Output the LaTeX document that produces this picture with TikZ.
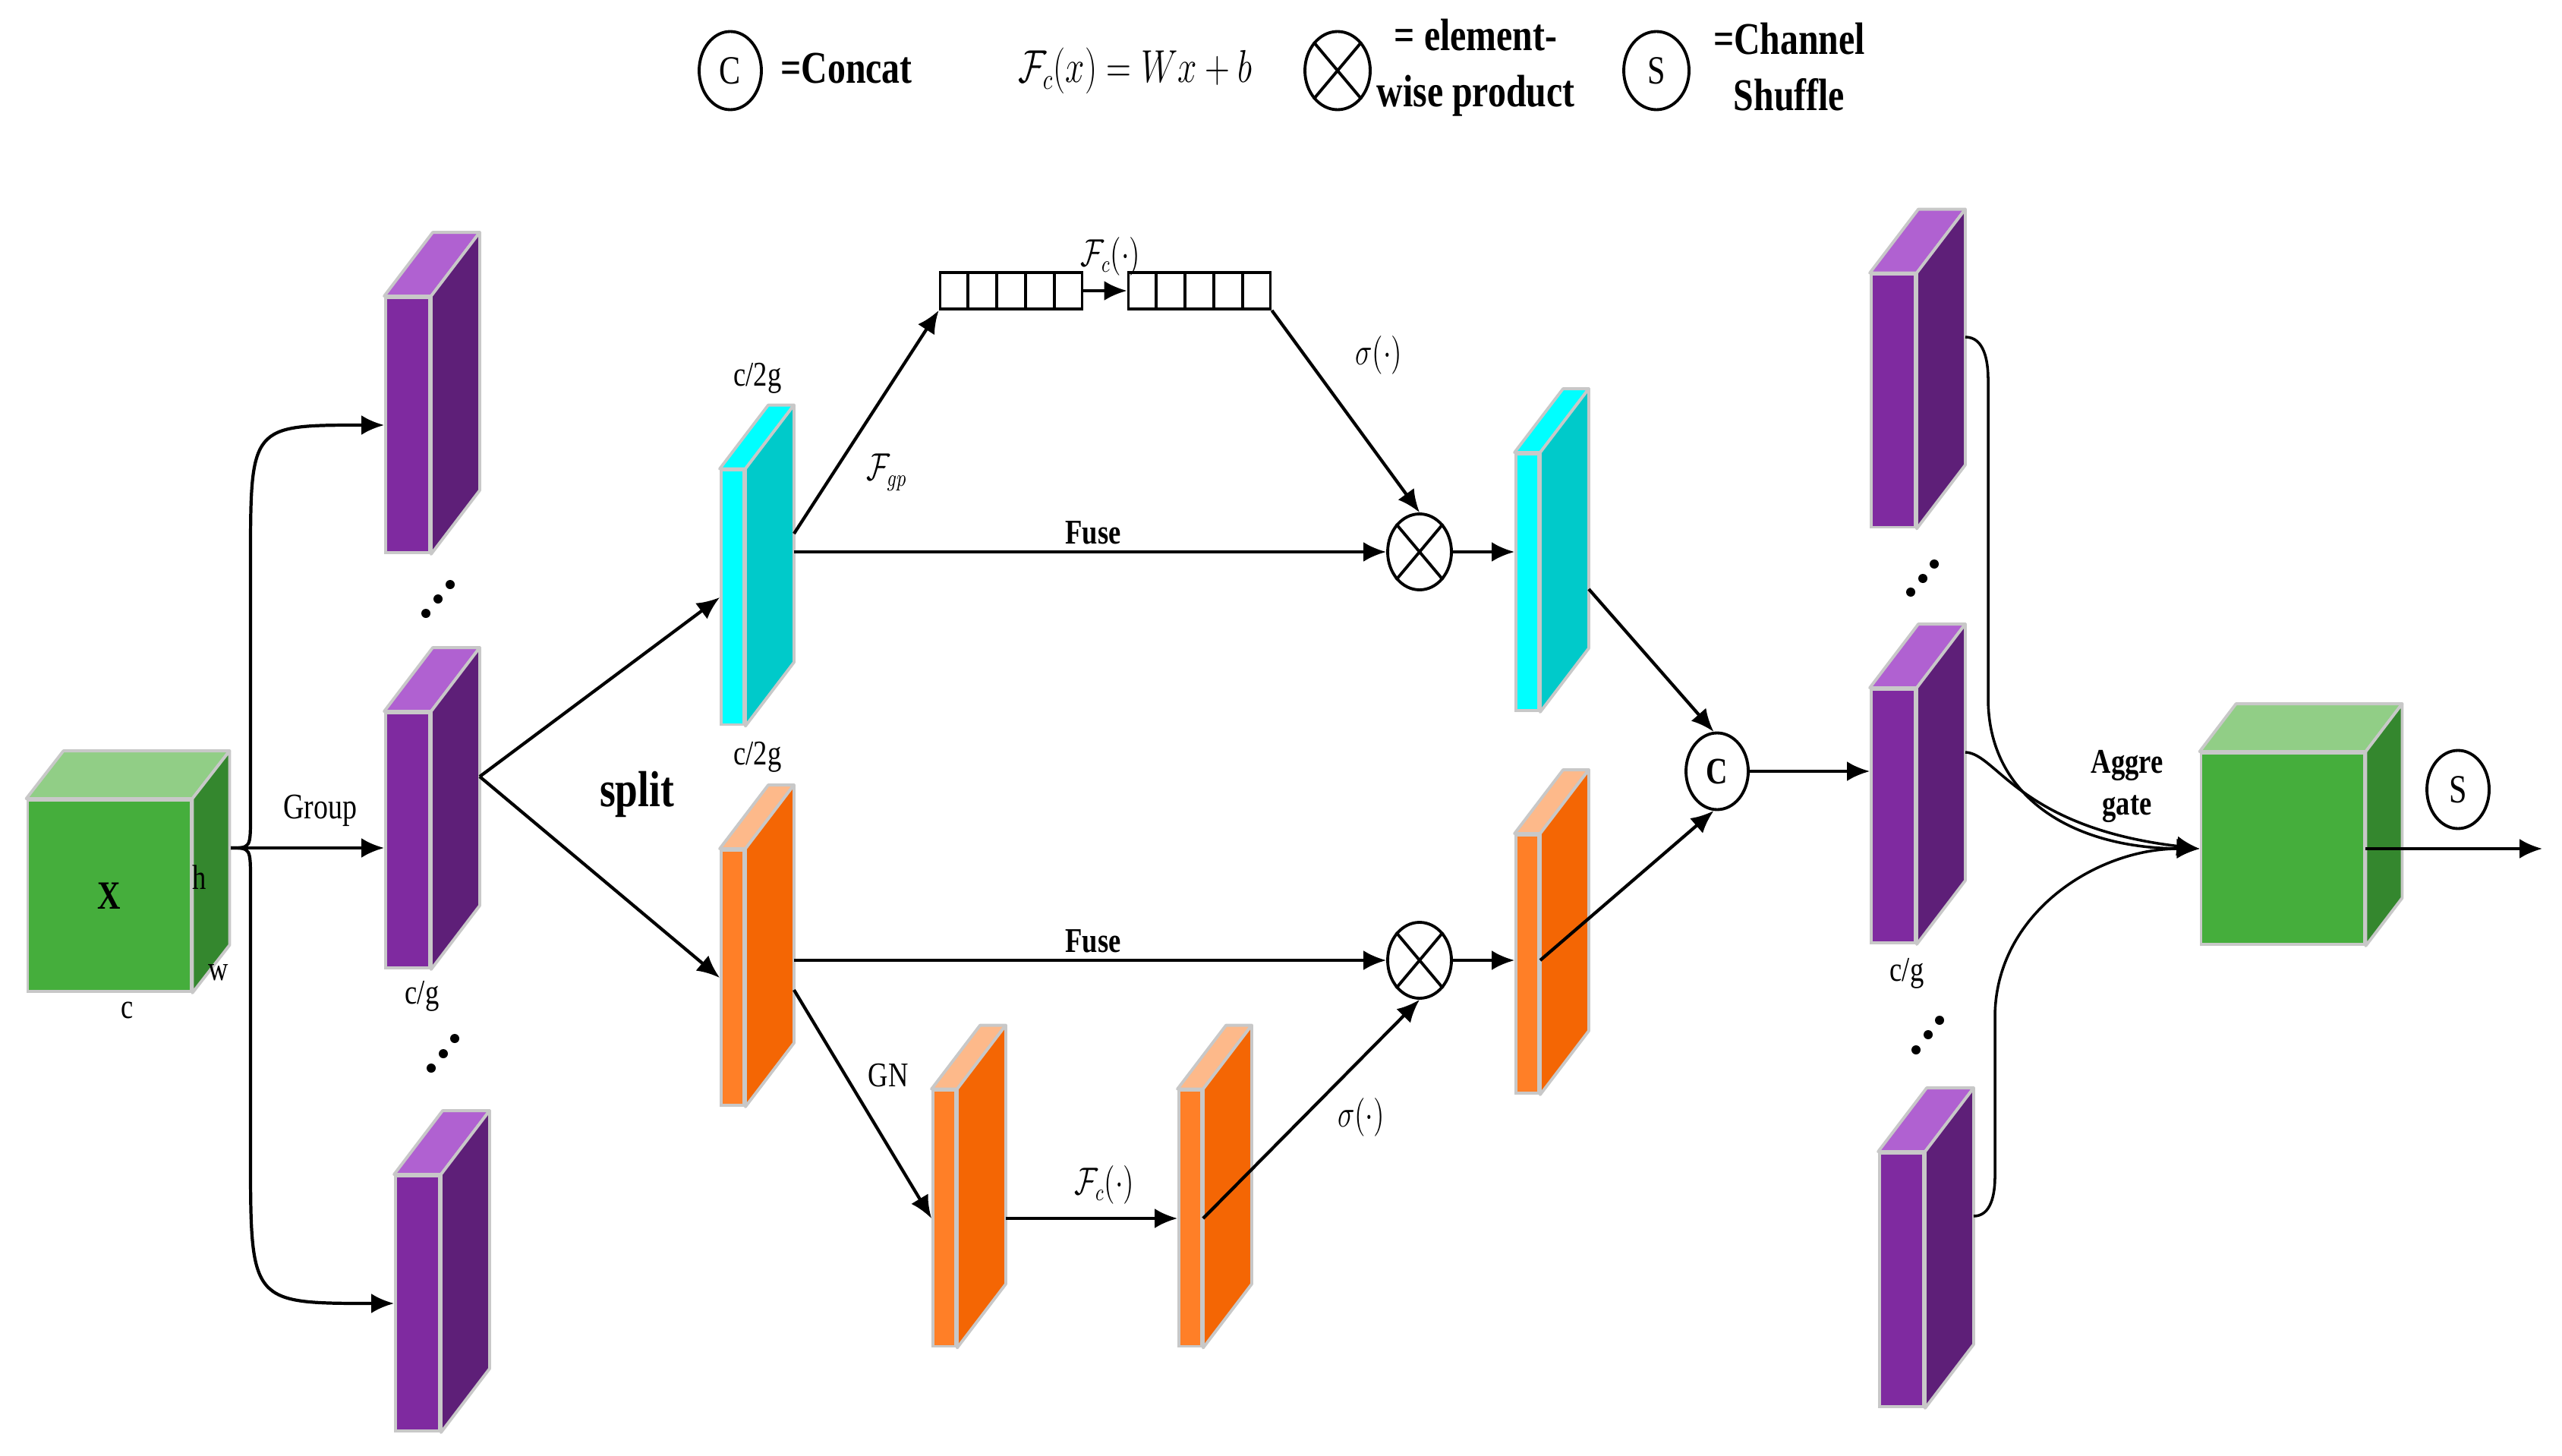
\documentclass[tikz,border=0pt]{standalone}
\usepackage{fontspec}
\setmainfont{Liberation Serif}[FakeStretch=0.8]
\usepackage{graphicx}
\usetikzlibrary{calc,shapes.geometric,arrows.meta}

\definecolor{rimgray}{HTML}{C8C8C8}
\definecolor{pfront}{HTML}{7F2AA0}
\definecolor{pside}{HTML}{5E1F78}
\definecolor{ptop}{HTML}{B061D1}
\definecolor{gfront}{HTML}{45AE3C}
\definecolor{gside}{HTML}{34872E}
\definecolor{gtop}{HTML}{91CE86}
\definecolor{cfront}{HTML}{00FFFF}
\definecolor{cside}{HTML}{00CACA}
\definecolor{ofront}{HTML}{FF7F27}
\definecolor{oside}{HTML}{F46604}
\definecolor{otop}{HTML}{FDB98A}

% top and side faces of a box whose front face is a node
\newcommand{\faces}[5]{%
  \filldraw[fill=#2, draw=rimgray, line width=1.1pt, line join=round]
    (#1.north west) -- ++(#4,#5) -- ($(#1.north east)+(#4,#5)$) -- (#1.north east) -- cycle;
  \filldraw[fill=#3, draw=rimgray, line width=1.1pt, line join=round]
    (#1.north east) -- ($(#1.north east)+(#4,#5)$) -- ($(#1.south east)+(#4,#5)$) -- (#1.south east) -- cycle;
  \coordinate (#1-r) at ($(#1.east)+(#4,#5)$);
}
\newcommand{\nmath}[1]{\scalebox{0.75}[1]{$#1$}}

\begin{document}
\begin{tikzpicture}[
  >={Latex[length=3mm,width=2.6mm]},
  every node/.style={align=center},
  link/.style={line width=1.2pt},
  slab/.style={draw=rimgray, line width=1.1pt, inner sep=0pt, minimum width=0.58cm, minimum height=3.36cm},
  thinslab/.style={slab, minimum width=0.30cm},
  block/.style={draw=rimgray, line width=1.1pt, inner sep=0pt, minimum width=2.15cm, minimum height=2.52cm, fill=gfront},
  op/.style={draw, ellipse, line width=1.1pt, minimum width=0.84cm, minimum height=1.0cm, inner sep=0pt, font=\fontsize{15}{17}\selectfont},
  vec/.style={draw, line width=1.1pt, minimum width=1.87cm, minimum height=0.48cm, inner sep=0pt},
  dot/.style={circle, fill, inner sep=0pt, minimum size=0.12cm},
  lbl/.style={font=\fontsize{13}{15}\selectfont},
  mlbl/.style={font=\fontsize{13.5}{16}\selectfont},
  blbl/.style={font=\fontsize{13}{15.4}\selectfont\bfseries},
  leg/.style={font=\fontsize{17}{21}\selectfont\bfseries}
]
\useasboundingbox (0,0) rectangle (33.75,-19.17);

% --- Legend ---
\node[op, minimum width=0.82cm, minimum height=1.03cm] (lcat) at (9.62,-0.93) {C};
\node[leg, anchor=west] (lcattxt) at (10.16,-0.90) {=Concat};
\node[font=\fontsize{16}{19}\selectfont] (lfc) at (14.95,-0.93) {\nmath{\mathcal{F}_c(x) = Wx + b}};
\node[op, minimum width=0.86cm, minimum height=1.03cm] (lmul) at (17.62,-0.93) {};
\draw[line width=1.1pt] (lmul.50) -- (lmul.230) (lmul.130) -- (lmul.310);
\node[leg] (lmultxt) at (19.44,-0.89) {= element-\\wise product};
\node[op, minimum width=0.86cm, minimum height=1.03cm] (lshf) at (21.82,-0.93) {S};
\node[leg] (lshftxt) at (23.57,-0.88) {=Channel\\Shuffle};

% --- Input block ---
\node[block, font=\fontsize{15}{17}\selectfont\bfseries] (x0) at (1.44,-11.80) {X};
\faces{x0}{gtop}{gside}{0.49}{0.63}
\node[lbl] (hlbl) at (2.63,-11.56) {h};
\node[lbl] (wlbl) at (2.88,-12.81) {w};
\node[lbl] (clbl) at (1.68,-13.31) {c};
\coordinate (xs) at (3.04,-11.17);

% --- Groups ---
\node[slab, fill=pfront] (p1) at (5.37,-5.60) {};
\faces{p1}{ptop}{pside}{0.64}{0.84}
\node[slab, fill=pfront] (p2) at (5.37,-11.07) {};
\faces{p2}{ptop}{pside}{0.64}{0.84}
\node[slab, fill=pfront] (p3) at (5.50,-17.17) {};
\faces{p3}{ptop}{pside}{0.64}{0.84}
\node[dot] (pd1) at (5.61,-8.08) {};
\node[dot] (pd2) at (5.77,-7.89) {};
\node[dot] (pd3) at (5.93,-7.70) {};
\node[dot] (pd4) at (5.68,-14.07) {};
\node[dot] (pd5) at (5.84,-13.88) {};
\node[dot] (pd6) at (5.99,-13.68) {};
\node[lbl] (cg1) at (5.56,-13.12) {c/g};
\node[font=\fontsize{13.5}{16}\selectfont] (grp) at (4.22,-10.68) {Group};

% --- Split branches ---
\node[thinslab, fill=cfront, minimum height=3.35cm] (c1) at (9.65,-7.87) {};
\faces{c1}{cfront}{cside}{0.64}{0.84}
\node[thinslab, fill=ofront] (o1) at (9.65,-12.88) {};
\faces{o1}{otop}{oside}{0.64}{0.84}
\node[lbl] (c2g1) at (9.98,-4.98) {c/2g};
\node[lbl] (c2g2) at (9.98,-9.97) {c/2g};
\node[font=\fontsize{19}{22}\selectfont\bfseries] (spl) at (8.39,-10.46) {split};

% --- Channel attention ---
\node[vec] (vec1) at (13.32,-3.83) {};
\node[vec] (vec2) at (15.80,-3.83) {};
\foreach \i in {1,...,4} {
  \draw[line width=1.1pt] ($(vec1.south west)!\i/5!(vec1.south east)$) -- ($(vec1.north west)!\i/5!(vec1.north east)$);
  \draw[line width=1.1pt] ($(vec2.south west)!\i/5!(vec2.south east)$) -- ($(vec2.north west)!\i/5!(vec2.north east)$);
}
\node[mlbl] (fgp) at (11.68,-6.22) {\nmath{\mathcal{F}_{gp}}};
\node[mlbl] (fc1) at (14.63,-3.38) {\nmath{\mathcal{F}_c(\cdot)}};
\node[mlbl] (sg1) at (18.16,-4.68) {\nmath{\sigma(\cdot)}};
\node[op] (m1) at (18.70,-7.27) {};
\draw[line width=1.1pt] (m1.50) -- (m1.230) (m1.130) -- (m1.310);

% --- Spatial attention ---
\node[thinslab, fill=ofront, minimum height=3.37cm] (sa) at (12.44,-16.05) {};
\faces{sa}{otop}{oside}{0.64}{0.84}
\node[thinslab, fill=ofront, minimum height=3.37cm] (sb) at (15.68,-16.05) {};
\faces{sb}{otop}{oside}{0.64}{0.84}
\node[lbl] (gn) at (11.70,-14.17) {GN};
\node[mlbl] (fc2) at (14.55,-15.61) {\nmath{\mathcal{F}_c(\cdot)}};
\node[mlbl] (sg2) at (17.93,-14.72) {\nmath{\sigma(\cdot)}};
\node[op] (m2) at (18.70,-12.65) {};
\draw[line width=1.1pt] (m2.50) -- (m2.230) (m2.130) -- (m2.310);
\node[blbl] (fuse1) at (14.40,-7.02) {Fuse};
\node[blbl] (fuse2) at (14.40,-12.40) {Fuse};

% --- Outputs and concat ---
\node[thinslab, fill=cfront, minimum height=3.38cm] (c2) at (20.12,-7.67) {};
\faces{c2}{cfront}{cside}{0.64}{0.84}
\node[thinslab, fill=ofront, minimum height=3.40cm] (o2) at (20.12,-12.70) {};
\faces{o2}{otop}{oside}{0.64}{0.84}
\node[op, minimum width=0.82cm, minimum height=1.01cm, font=\fontsize{14}{16}\selectfont\bfseries] (cat) at (22.62,-10.16) {C};

% --- Aggregation ---
\node[slab, fill=pfront, minimum height=3.33cm] (q1) at (24.94,-5.28) {};
\faces{q1}{ptop}{pside}{0.64}{0.84}
\node[slab, fill=pfront, minimum height=3.34cm] (q2) at (24.94,-10.75) {};
\faces{q2}{ptop}{pside}{0.64}{0.84}
\node[slab, fill=pfront, minimum height=3.34cm] (q3) at (25.05,-16.86) {};
\faces{q3}{ptop}{pside}{0.64}{0.84}
\node[dot] (qd1) at (25.17,-7.80) {};
\node[dot] (qd2) at (25.33,-7.62) {};
\node[dot] (qd3) at (25.48,-7.43) {};
\node[dot] (qd4) at (25.24,-13.83) {};
\node[dot] (qd5) at (25.40,-13.63) {};
\node[dot] (qd6) at (25.55,-13.44) {};
\node[lbl] (cg2) at (25.12,-12.82) {c/g};
\node[blbl] (agg) at (28.02,-10.36) {Aggre\\gate};
\node[block] (g2) at (30.07,-11.18) {};
\faces{g2}{gtop}{gside}{0.48}{0.63}
\node[op, minimum width=0.82cm, minimum height=1.03cm] (shf) at (32.38,-10.40) {S};
\coordinate (yout) at (33.49,-11.18);

% --- Connectors ---
\draw[link,->] (xs) .. controls (3.30,-11.17) .. (3.30,-10.75) -- (3.30,-7.40) .. controls (3.30,-5.60) .. (p1.west);
\draw[link,->] (xs) -- (xs -| p2.west);
\draw[link,->] (xs) .. controls (3.30,-11.17) .. (3.30,-11.60) -- (3.30,-15.20) .. controls (3.30,-17.17) .. (p3.west);

\draw[link,->] (p2-r) -- (c1.west);
\draw[link,->] (p2-r) -- (o1.west);

\draw[link,->] (c1-r) -- (vec1.south west);
\draw[link,->] (vec1.east) -- (vec2.west);
\draw[link,->] (vec2.south east) -- (m1.north);
\draw[link,->] (m1.west -| c1-r) -- (m1.west);
\draw[link,->] (m1.east) -- (m1.east -| c2.west);

\draw[link,->] (m2.west -| o1-r) -- (m2.west);
\draw[link,->] ($(o1-r)+(0,-1.00)$) -- (sa.west);
\draw[link,->] (sa.east -| sa-r) -- (sb.west);
\draw[link,->] (sb.east) -- (m2.south);
\draw[link,->] (m2.east) -- (m2.east -| o2.west);

\draw[link,->] ($(c2-r)+(0,-0.93)$) -- (cat.95);
\draw[link,->] (m2.east -| o2.east) -- (cat.-95);
\draw[link,->] (cat.east) -- (cat.east -| q2.west);

\draw[line width=1pt,->] (q1-r) to[out=0,in=90] (26.19,-5.00) -- (26.19,-9.20) .. controls (26.19,-10.50) and (27.30,-11.17) .. (g2.west);
\draw[line width=1pt,->] (q2-r) .. controls (26.30,-9.92) and (26.60,-10.90) .. (g2.west);
\draw[line width=1pt,->] (q3-r) to[out=0,in=-90] (26.28,-15.50) -- (26.28,-13.40) to[out=90,in=180] (g2.west);
\draw[link,->] (g2.east) -- (yout);

\end{tikzpicture}
\end{document}
